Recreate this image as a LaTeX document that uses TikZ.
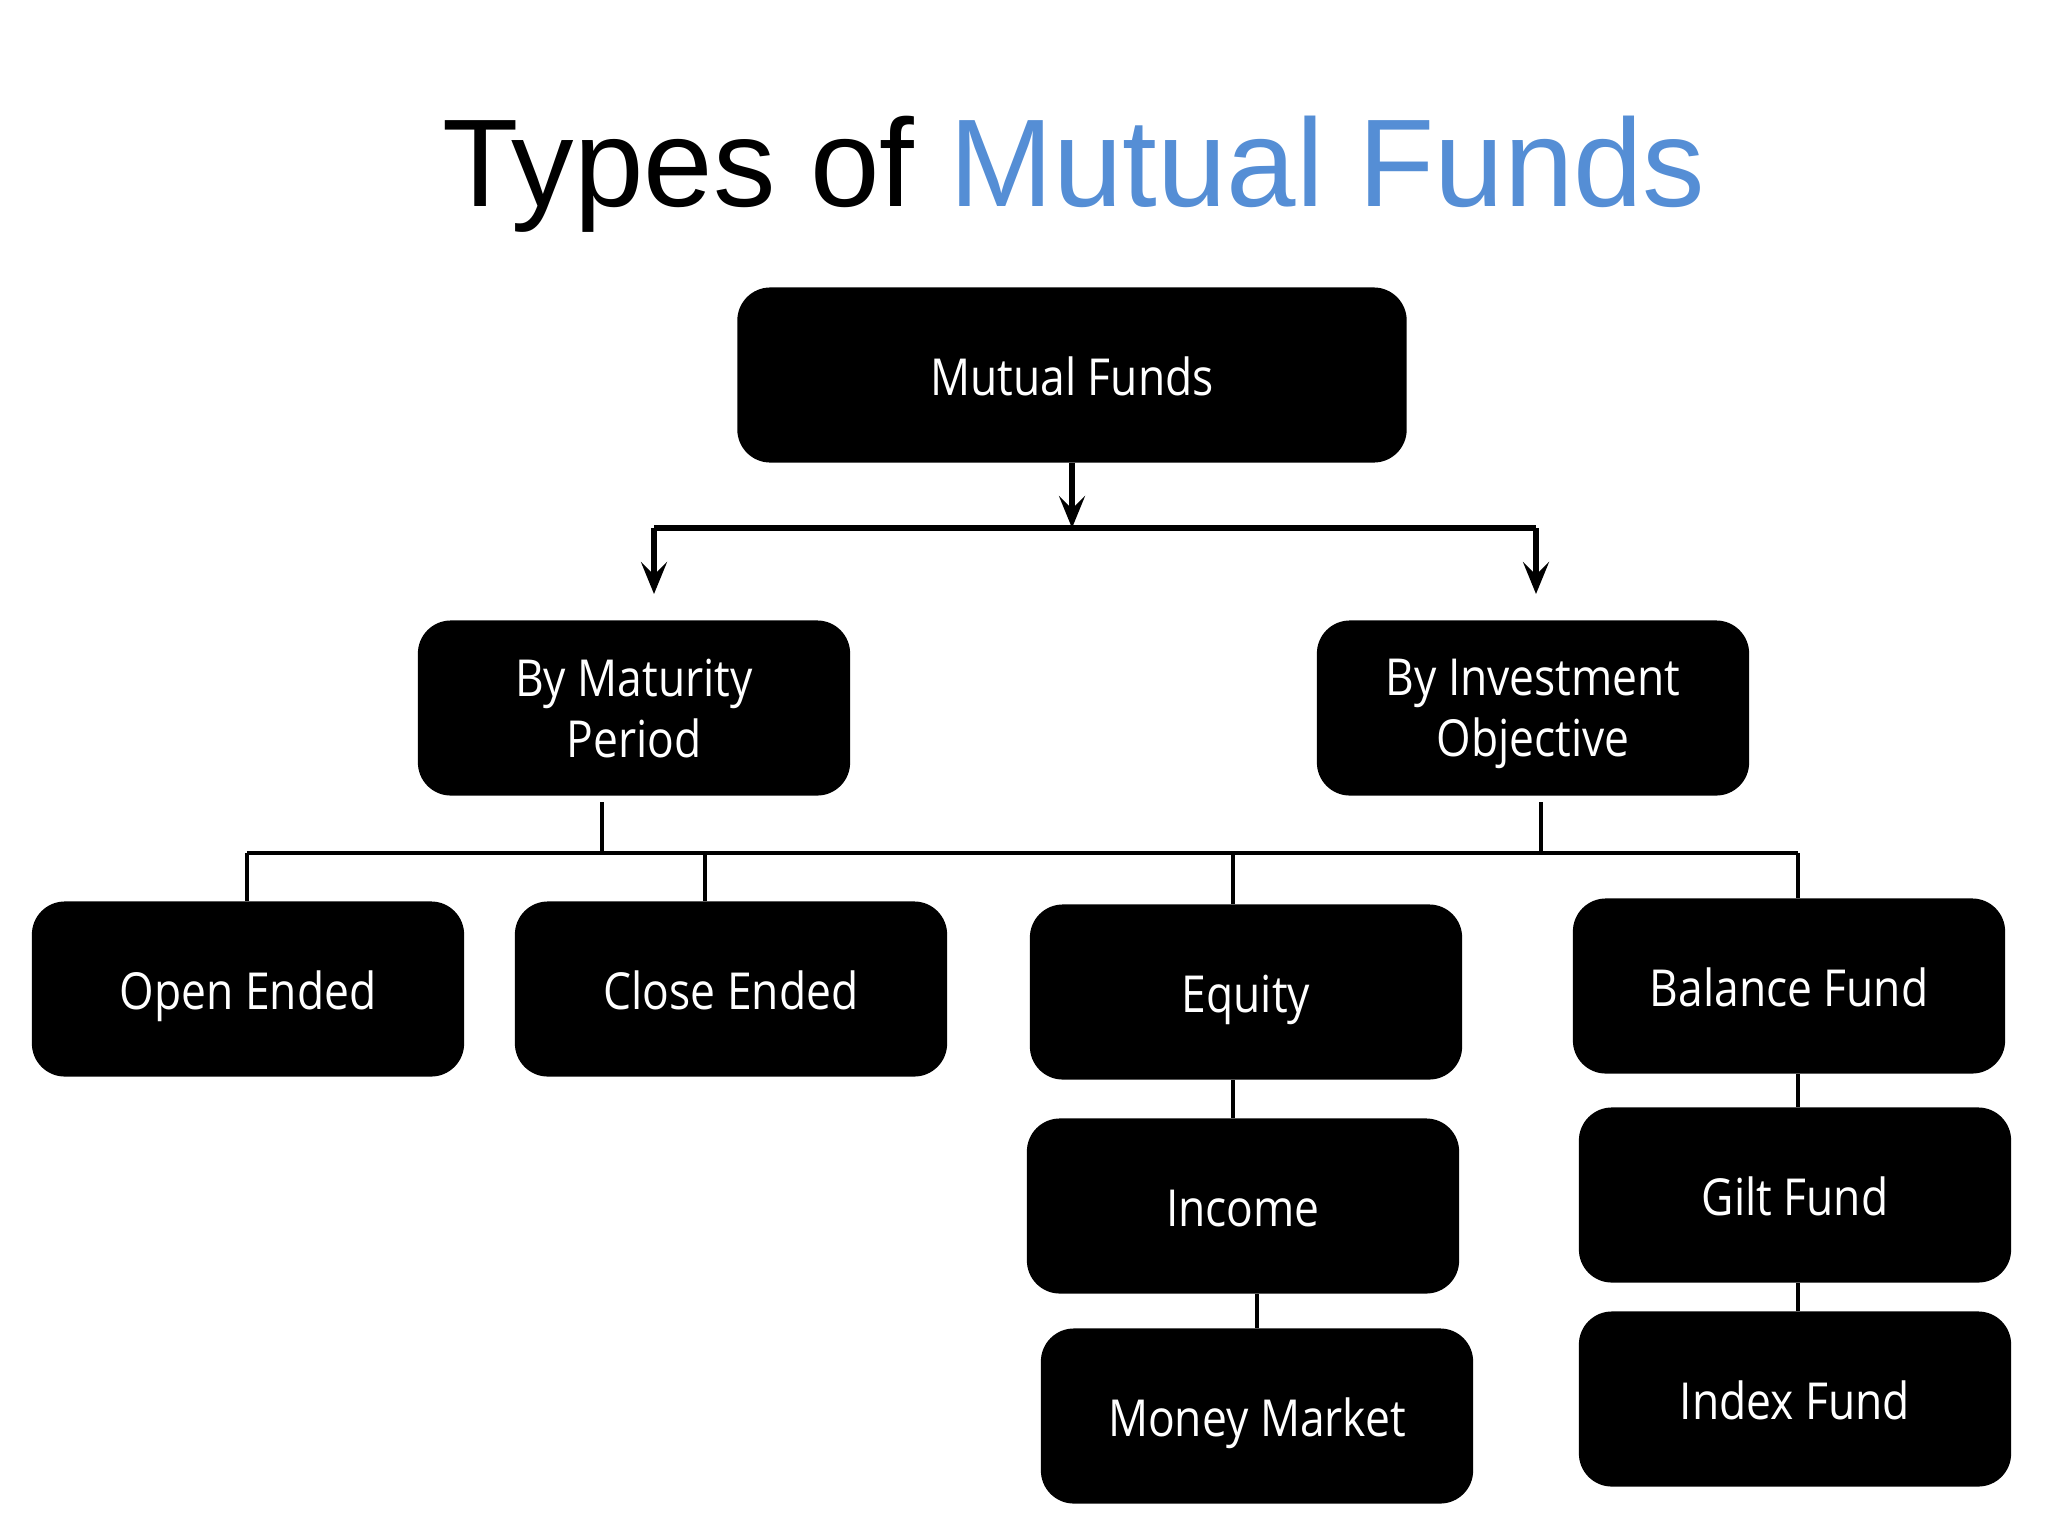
\documentclass[tikz,border=0pt]{standalone}
\usepackage{fontspec}
\setmainfont{Liberation Sans}
\newfontfamily\boxfont{Open Sans}[FakeStretch=0.87]
\usetikzlibrary{arrows.meta, positioning, calc}
\definecolor{titleblue}{HTML}{558ED5}

\begin{document}
\begin{tikzpicture}[x=0.01cm, y=-0.01cm,
    fundbox/.style={fill=black, text=white, rounded corners=0.33cm, minimum width=4.32cm,
      minimum height=1.75cm, align=center, inner sep=0pt, text depth=0pt,
      font=\boxfont\fontsize{14.5}{17.4}\selectfont},
    oneline/.style={fundbox, text height=11.5pt},
    tier/.style={line width=1.6pt},
    link/.style={line width=1.2pt},
    tip/.style={-{Stealth[length=3.2mm, width=2.6mm, inset=1.3mm]}}]
  \useasboundingbox (0,0) rectangle (2048,1536);

  \node[anchor=base, font=\fontsize{35.5}{40}\selectfont] (head) at (1074,206)
    {Types of \textcolor{titleblue}{Mutual Funds}};

  % boxes
  \node[oneline, minimum width=6.69cm] (mf) at (1072,375) {Mutual Funds};
  \node[fundbox] (mat) at (634,708) {By Maturity\\Period};
  \node[fundbox] (inv) at (1533,708) {By Investment\\Objective};
  \node[oneline] (open) at (248,989) {Open Ended};
  \node[oneline] (close) at (731,989) {Close Ended};
  \node[oneline] (eq) at (1246,992) {Equity};
  \node[oneline] (bal) at (1789,986) {Balance Fund};
  \node[oneline] (inc) at (1243,1206) {Income};
  \node[oneline] (gilt) at (1795,1195) {Gilt Fund};
  \node[oneline] (mm) at (1257,1416) {Money Market};
  \node[oneline] (idx) at (1795,1399) {Index Fund};

  % first split
  \coordinate (split) at (1072,528);
  \coordinate (barL) at (654,528);
  \coordinate (barR) at (1536,528);
  \coordinate (tipL) at (654,594);
  \coordinate (tipR) at (1536,594);
  \draw[tier, tip] (mf.south) -- (split);
  \draw[tier] (barL) -- (barR);
  \draw[tier, tip] (barL) -- (tipL);
  \draw[tier, tip] (barR) -- (tipR);

  % second split
  \coordinate (matfoot) at (602,802);
  \coordinate (invfoot) at (1541,802);
  \coordinate (lowL) at (247,853);
  \coordinate (lowR) at (1798,853);
  \draw[link] (matfoot) -- (matfoot |- lowL);
  \draw[link] (invfoot) -- (invfoot |- lowL);
  \draw[link] (lowL) -- (lowR);
  \foreach \n/\x in {open/247, close/705, eq/1233, bal/1798} {
    \coordinate (drop\n) at (\x,853);
    \draw[link] (drop\n) -- (drop\n |- \n.north);
  }

  % chains
  \draw[link] (dropeq |- eq.south) -- (dropeq |- inc.north);
  \draw[link] (mm.north |- inc.south) -- (mm.north);
  \draw[link] (dropbal |- bal.south) -- (dropbal |- gilt.north);
  \draw[link] (dropbal |- gilt.south) -- (dropbal |- idx.north);
\end{tikzpicture}
\end{document}
